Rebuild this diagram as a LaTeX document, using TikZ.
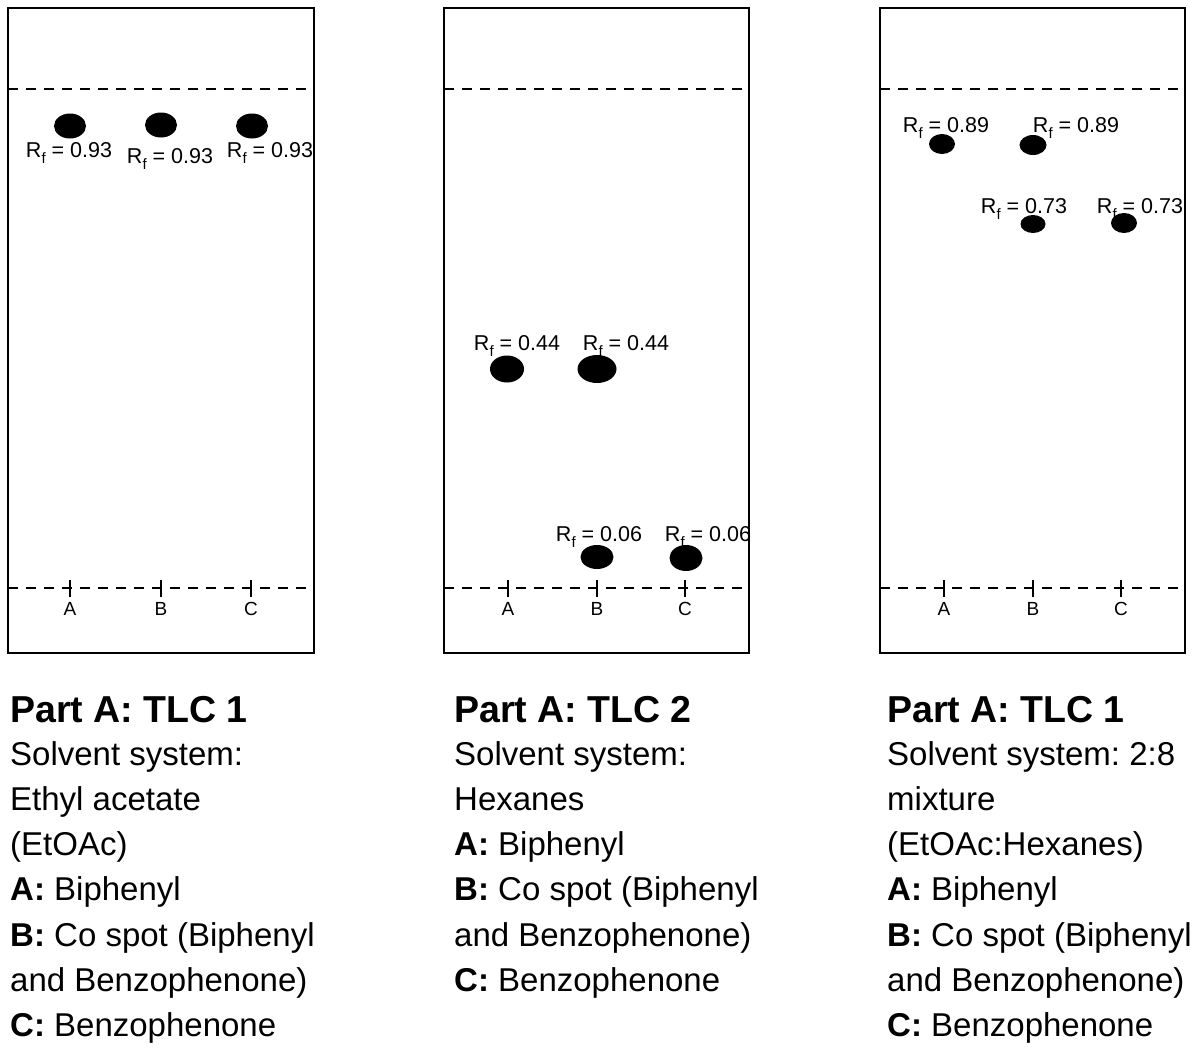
\documentclass[tikz,border=0pt]{standalone}
\usepackage{fontspec}
\setmainfont{Liberation Sans}
\usetikzlibrary{shapes.geometric}
\frenchspacing
\newcommand{\rfl}[1]{R\raisebox{-0.28em}{\fontsize{15}{15}\selectfont f} = #1}
\begin{document}
\begin{tikzpicture}[x=1pt,y=-1pt,
  plate/.style={draw=black,line width=1.8pt},
  front/.style={line width=1.8pt,dash pattern=on 10pt off 8pt},
  tick/.style={line width=1.8pt},
  spot/.style={ellipse,fill=black,inner sep=0pt},
  rf/.style={anchor=base,inner sep=0pt,font=\fontsize{21.5}{24}\selectfont},
  lane/.style={anchor=base,inner sep=0pt,font=\fontsize{19}{20}\selectfont},
  head/.style={anchor=base west,inner sep=0pt,font=\fontsize{37.5}{44}\selectfont\bfseries},
  body/.style={anchor=base west,inner sep=0pt,font=\fontsize{33}{44}\selectfont}]
\useasboundingbox[fill=white] (0,0) rectangle (1200,1052);

% ---------- plates ----------
\foreach \n/\l/\r in {1/8/314, 2/444/749, 3/880/1185}{
  \draw[plate] (\l,8) rectangle (\r,653);
  \coordinate (f\n l) at (\l,89); \coordinate (f\n r) at (\r,89);
  \coordinate (b\n l) at (\l,588); \coordinate (b\n r) at (\r,588);
  \draw[front] (f\n l) -- (f\n r);
  \draw[front] (b\n l) -- (b\n r);
}

% ---------- lane ticks and letters ----------
\foreach \n/\a/\b/\c in {1/70/161/251, 2/508/597/685, 3/944/1033/1121}{
  \foreach \x/\t in {\a/A,\b/B,\c/C}{
    \coordinate (t\n\t u) at (\x,580);
    \coordinate (t\n\t d) at (\x,597);
    \draw[tick] (t\n\t u) -- (t\n\t d);
    \node[lane] (l\n\t) at (\x,615) {\t};
  }
}

% ---------- TLC 1 spots ----------
\node[spot,minimum width=32pt,minimum height=25pt] (s1a) at (70,126) {};
\node[spot,minimum width=32pt,minimum height=25pt] (s1b) at (161,125) {};
\node[spot,minimum width=32pt,minimum height=25pt] (s1c) at (252,126) {};
\node[rf] (r1a) at (69,157) {\rfl{0.93}};
\node[rf] (r1b) at (170,163) {\rfl{0.93}};
\node[rf] (r1c) at (270,157) {\rfl{0.93}};

% ---------- TLC 2 spots ----------
\node[spot,minimum width=34pt,minimum height=27pt] (s2a) at (507,369) {};
\node[spot,minimum width=39pt,minimum height=28pt] (s2b) at (597,369) {};
\node[spot,minimum width=33pt,minimum height=24pt] (s2b2) at (597,557) {};
\node[spot,minimum width=33pt,minimum height=26pt] (s2c) at (686,558) {};
\node[rf] (r2a) at (517,350) {\rfl{0.44}};
\node[rf] (r2b) at (626,350) {\rfl{0.44}};
\node[rf] (r2b2) at (599,541) {\rfl{0.06}};
\node[rf] (r2c) at (708,541) {\rfl{0.06}};

% ---------- TLC 3 spots ----------
\node[spot,minimum width=26pt,minimum height=20pt] (s3a) at (942,144) {};
\node[spot,minimum width=27pt,minimum height=20pt] (s3b) at (1033,145) {};
\node[spot,minimum width=25pt,minimum height=18pt] (s3b2) at (1033,224) {};
\node[spot,minimum width=26pt,minimum height=20pt] (s3c) at (1124,223) {};
\node[rf] (r3a) at (946,132) {\rfl{0.89}};
\node[rf] (r3b) at (1076,132) {\rfl{0.89}};
\node[rf] (r3b2) at (1024,213) {\rfl{0.73}};
\node[rf] (r3c) at (1140,213) {\rfl{0.73}};

% ---------- captions ----------
\node[head] (h1) at (10,722) {Part A: TLC 1};
\node[body] (c1a) at (10,765) {Solvent system:};
\node[body] (c1b) at (10,810) {Ethyl acetate};
\node[body] (c1c) at (10,855) {(EtOAc)};
\node[body] (c1d) at (10,900) {\textbf{A:} Biphenyl};
\node[body] (c1e) at (10,946) {\textbf{B:} Co spot (Biphenyl};
\node[body] (c1f) at (10,991) {and Benzophenone)};
\node[body] (c1g) at (10,1036) {\textbf{C:} Benzophenone};

\node[head] (h2) at (454,722) {Part A: TLC 2};
\node[body] (c2a) at (454,765) {Solvent system:};
\node[body] (c2b) at (454,810) {Hexanes};
\node[body] (c2c) at (454,855) {\textbf{A:} Biphenyl};
\node[body] (c2d) at (454,900) {\textbf{B:} Co spot (Biphenyl};
\node[body] (c2e) at (454,946) {and Benzophenone)};
\node[body] (c2f) at (454,991) {\textbf{C:} Benzophenone};

\node[head] (h3) at (887,722) {Part A: TLC 1};
\node[body] (c3a) at (887,765) {Solvent system: 2:8};
\node[body] (c3b) at (887,810) {mixture};
\node[body] (c3c) at (887,855) {(EtOAc:Hexanes)};
\node[body] (c3d) at (887,900) {\textbf{A:} Biphenyl};
\node[body] (c3e) at (887,946) {\textbf{B:} Co spot (Biphenyl};
\node[body] (c3f) at (887,991) {and Benzophenone)};
\node[body] (c3g) at (887,1036) {\textbf{C:} Benzophenone};
\end{tikzpicture}
\end{document}
